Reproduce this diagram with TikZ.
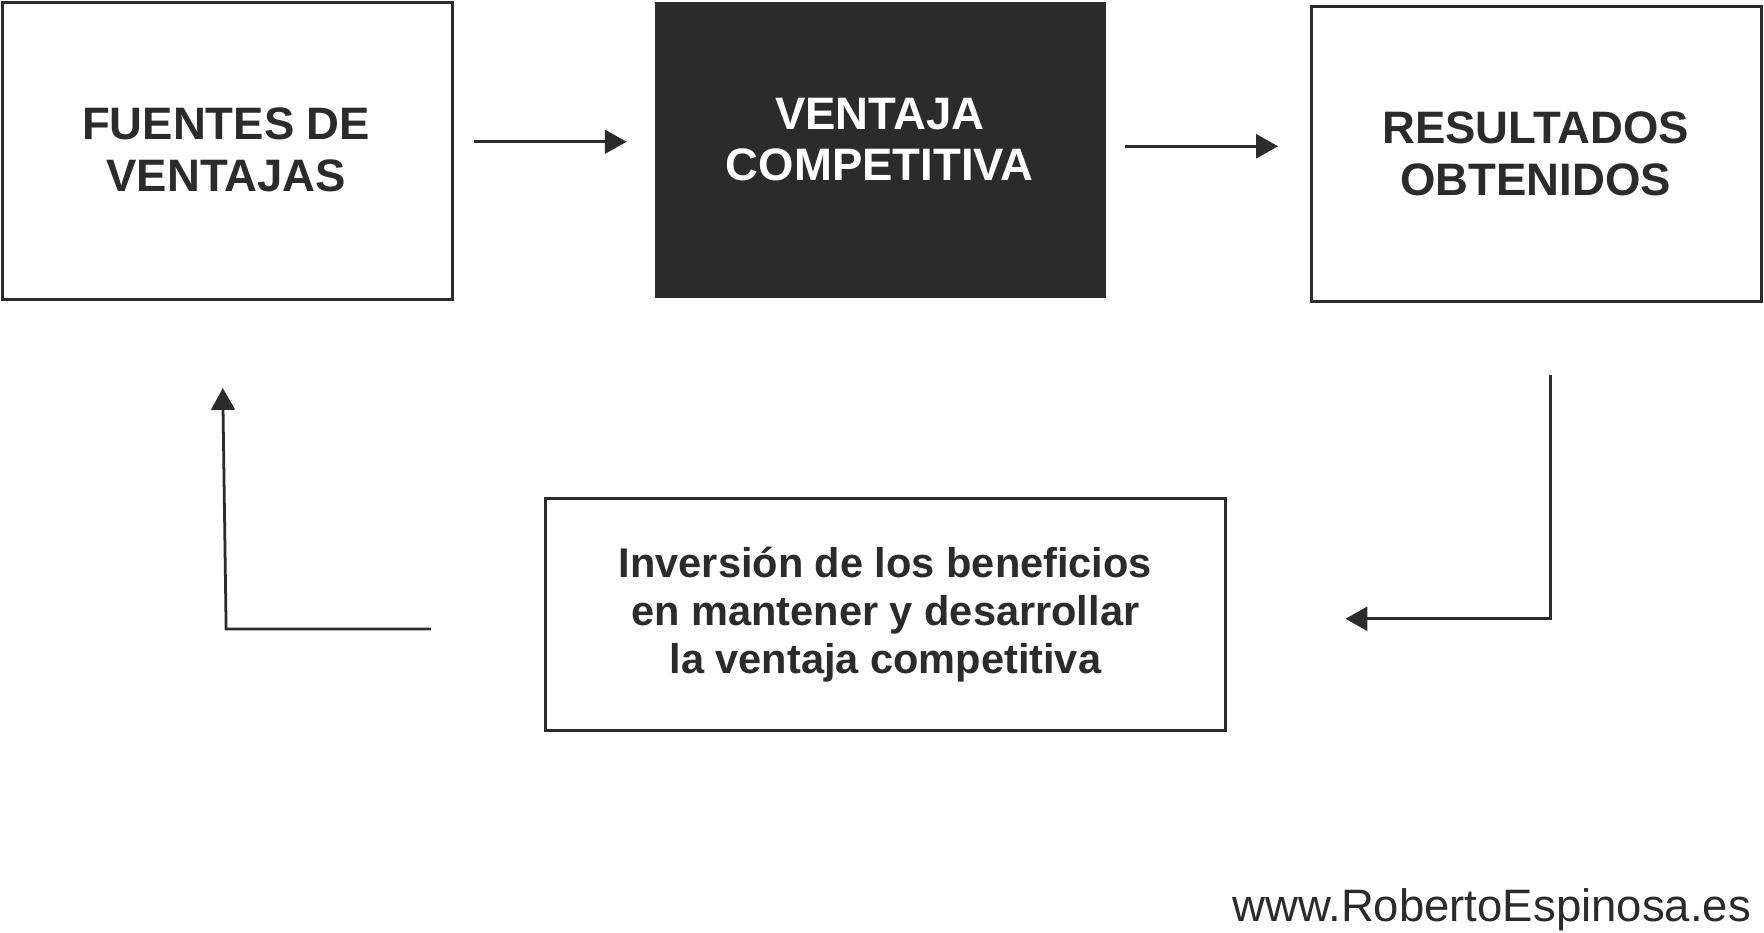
\documentclass[tikz,border=0pt]{standalone}
\usepackage{fontspec}
\setmainfont{Liberation Sans}
\usetikzlibrary{arrows.meta}
\definecolor{ink}{HTML}{2B2B2B}
\begin{document}
\begin{tikzpicture}[x=0.01cm,y=-0.01cm,
  box/.style={draw=ink,line width=0.7pt,inner sep=0pt},
  big/.style={font=\bfseries\fontsize{11.5}{13.1}\selectfont,align=center,text=ink},
  arr/.style={draw=ink,line width=0.7pt,-{Triangle[length=5.5pt,width=6pt]}}]
\useasboundingbox (0,0) rectangle (1568,829);
\path[box] (2,2) rectangle (402,266);
\node[big] (A) at (201,133) {FUENTES DE\\VENTAJAS};
\fill[ink] (582,2) rectangle (983,265);
\node[big,text=white] (B) at (782,124) {VENTAJA\\COMPETITIVA};
\path[box] (1166,6) rectangle (1566,268);
\node[big] (C) at (1365,137) {RESULTADOS\\OBTENIDOS};
\path[box] (485,443) rectangle (1089,649);
\node[font=\bfseries\fontsize{10.5}{12.1}\selectfont,align=center,text=ink] (D) at (787,546)
  {Inversión de los beneficios\\en mantener y desarrollar\\la ventaja competitiva};
\coordinate (a1) at (421,126); \coordinate (a2) at (557,126);
\coordinate (b1) at (1000,130); \coordinate (b2) at (1136,130);
\coordinate (c1) at (1378,333); \coordinate (c2) at (1378,550); \coordinate (c3) at (1196,550);
\coordinate (d1) at (383,559); \coordinate (d2) at (201,559); \coordinate (d3) at (198,345);
\draw[arr] (a1) -- (a2);
\draw[arr] (b1) -- (b2);
\draw[arr] (c1) -- (c2) -- (c3);
\draw[arr] (d1) -- (d2) -- (d3);
\node[anchor=base east,font=\fontsize{11.5}{14}\selectfont,text=ink,inner sep=0pt] (W) at (1557,819) {www.RobertoEspinosa.es};
\end{tikzpicture}
\end{document}
